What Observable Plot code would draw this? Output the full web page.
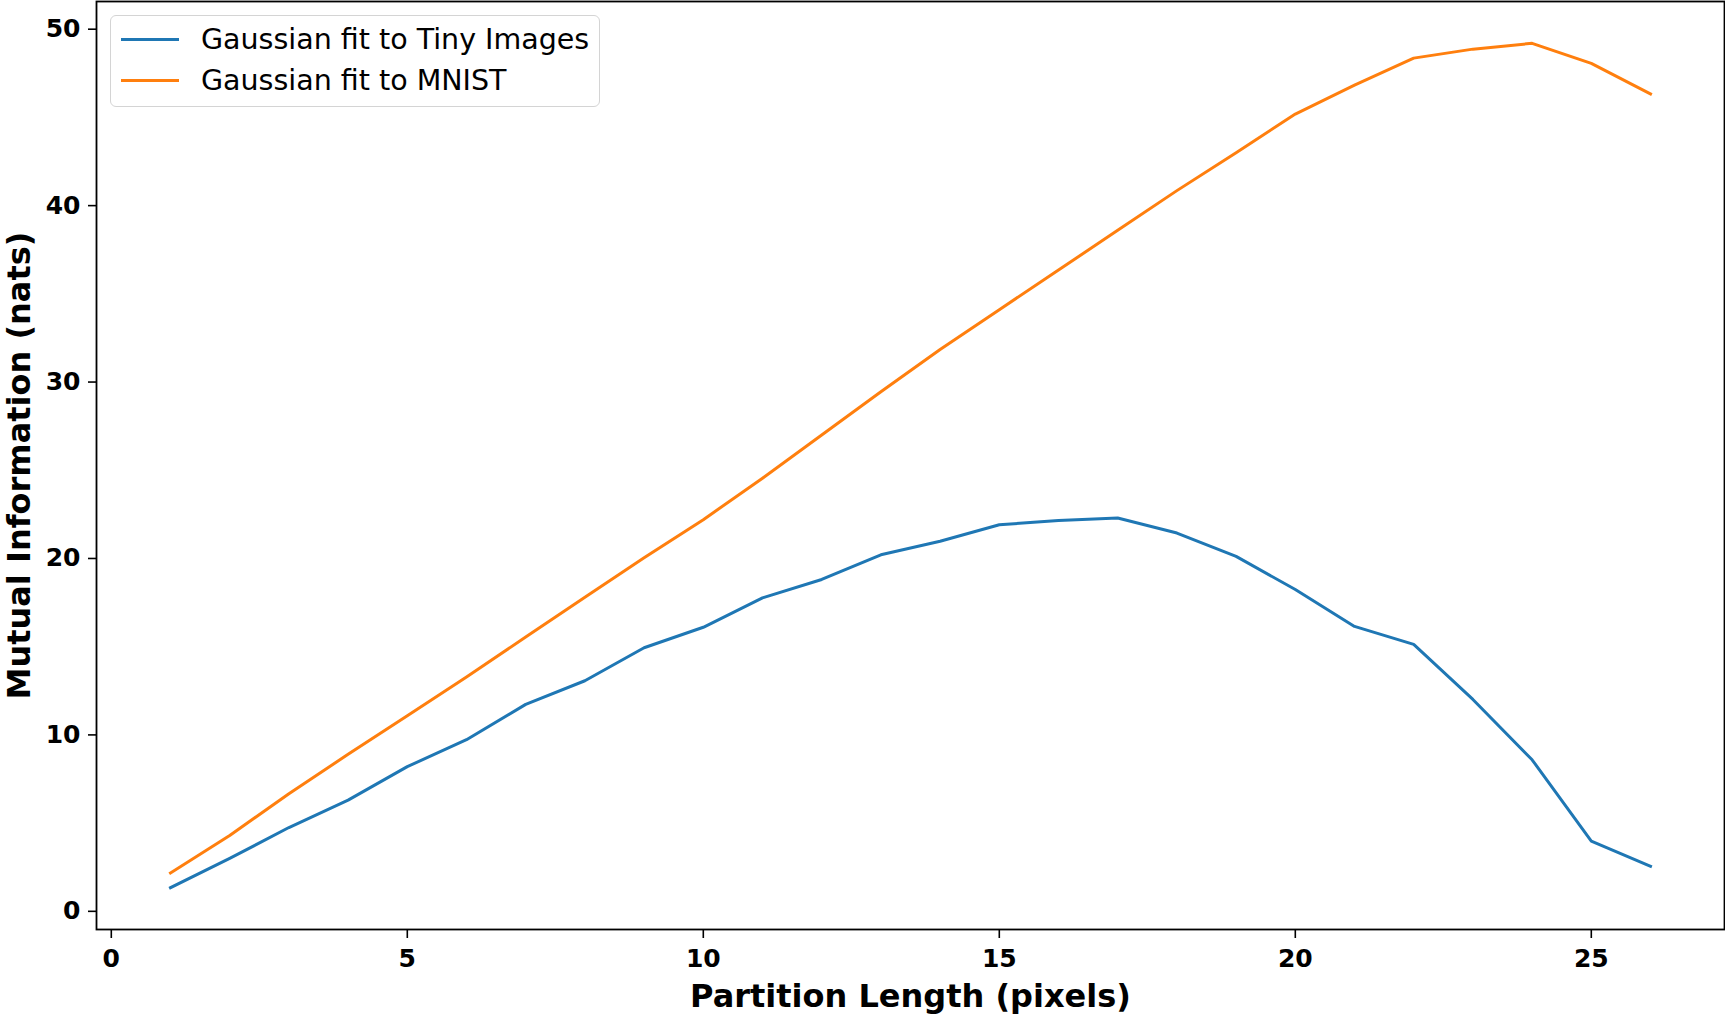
<!DOCTYPE html>
<html>
<head>
<meta charset="utf-8">
<script src="https://cdn.jsdelivr.net/npm/d3@7"></script>
<script src="https://cdn.jsdelivr.net/npm/@observablehq/plot@0.6"></script>
<style>
  html, body { margin: 0; padding: 0; background: #fff; }
  #wrap { position: relative; width: 1725px; height: 1014px; overflow: hidden; }
  #legend {
    position: absolute; left: 110px; top: 15px; width: 488px; height: 90px;
    border: 1.5px solid #d4d4d4; border-radius: 6px; background: rgba(255,255,255,0.8);
    font-family: "DejaVu Sans", sans-serif; font-size: 28.5px; color: #000;
  }
  .row { position: absolute; left: 10px; height: 34px; display: flex; align-items: center; }
  .sw { width: 58px; height: 3px; margin-right: 22px; }
</style>
</head>
<body>
<div id="wrap"></div>
<script>
const partitionLength = [1,2,3,4,5,6,7,8,9,10,11,12,13,14,15,16,17,18,19,20,21,22,23,24,25,26];
const tinyImages = [1.34, 3.0, 4.75, 6.3, 8.2, 9.73, 11.73, 13.07, 14.94, 16.1, 17.77, 18.81, 20.21, 20.98, 21.91, 22.15, 22.29, 21.44, 20.12, 18.24, 16.15, 15.13, 12.01, 8.59, 3.98, 2.55];
const mnist = [2.17, 4.3, 6.67, 8.9, 11.09, 13.28, 15.55, 17.8, 20.04, 22.2, 24.55, 27.0, 29.45, 31.85, 34.1, 36.35, 38.6, 40.85, 43.0, 45.19, 46.83, 48.36, 48.87, 49.2, 48.06, 46.33];
const seriesNames = ["Gaussian fit to Tiny Images", "Gaussian fit to MNIST"];
const seriesColors = ["#1f77b4", "#ff7f0e"];
const xTicks = [0, 5, 10, 15, 20, 25];
const yTicks = [0, 10, 20, 30, 40, 50];
const xLabel = "Partition Length (pixels)";
const yLabel = "Mutual Information (nats)";

const tinyData = partitionLength.map((x, i) => ({x, y: tinyImages[i]}));
const mnistData = partitionLength.map((x, i) => ({x, y: mnist[i]}));

const chart = Plot.plot({
  width: 1725,
  height: 1014,
  marginLeft: 96,
  marginRight: 1,
  marginTop: 1,
  marginBottom: 85,
  style: {fontFamily: "DejaVu Sans, sans-serif", color: "#000", background: "#fff", overflow: "visible"},
  x: {domain: [-0.25, 27.25]},
  y: {domain: [-1.03, 51.57]},
  marks: [
    Plot.axisX({ticks: xTicks, tickSize: 9, tickPadding: 11, fontSize: 25, fontWeight: "bold", label: null, strokeWidth: 1.6}),
    Plot.axisY({ticks: yTicks, tickSize: 8, tickPadding: 8, fontSize: 25, fontWeight: "bold", label: null, strokeWidth: 1.6}),
    Plot.line(tinyData, {x: "x", y: "y", stroke: seriesColors[0], strokeWidth: 3, strokeLinejoin: "round", strokeLinecap: "square"}),
    Plot.line(mnistData, {x: "x", y: "y", stroke: seriesColors[1], strokeWidth: 3, strokeLinejoin: "round", strokeLinecap: "square"}),
    Plot.frame({stroke: "#000", strokeWidth: 1.8}),
    Plot.text([xLabel], {text: d => d, frameAnchor: "bottom", dy: 67, lineAnchor: "middle", textAnchor: "middle", fontSize: 32, fontWeight: "bold", fill: "#000"}),
    Plot.text([yLabel], {text: d => d, frameAnchor: "left", dx: -77, rotate: -90, lineAnchor: "middle", textAnchor: "middle", fontSize: 32, fontWeight: "bold", fill: "#000"})
  ]
});

const wrap = document.getElementById("wrap");
wrap.appendChild(chart);

const legend = document.createElement("div");
legend.id = "legend";
seriesNames.forEach((name, i) => {
  const row = document.createElement("div");
  row.className = "row";
  row.style.top = (6 + i * 41.5) + "px";
  const sw = document.createElement("div");
  sw.className = "sw";
  sw.style.background = seriesColors[i];
  const t = document.createElement("span");
  t.textContent = name;
  row.appendChild(sw);
  row.appendChild(t);
  legend.appendChild(row);
});
wrap.appendChild(legend);
</script>
</body>
</html>
